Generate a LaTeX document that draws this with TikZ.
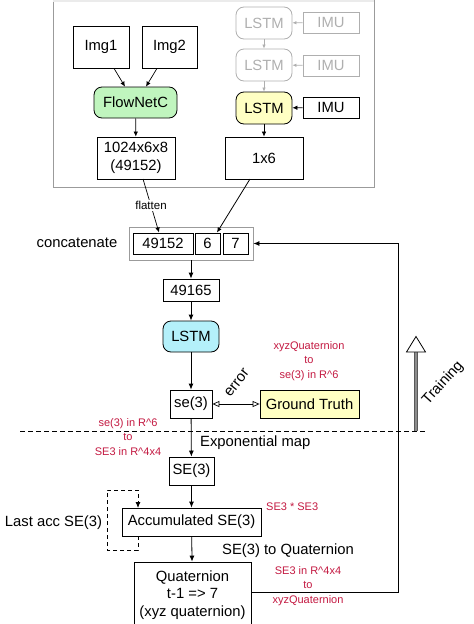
\documentclass[tikz,border=0pt]{standalone}
\usepackage{fontspec}
\setmainfont{Liberation Sans}
\usetikzlibrary{arrows.meta}
\definecolor{rtext}{RGB}{195,25,65}
\definecolor{gfill}{RGB}{192,245,190}
\definecolor{cfill}{RGB}{180,240,250}
\definecolor{yfill}{RGB}{255,255,195}
\definecolor{ghost}{RGB}{175,175,175}
\definecolor{frame}{RGB}{155,155,155}
\tikzset{
  mainf/.style={font=\fontsize{14.8}{18}\selectfont},
  redf/.style={font=\fontsize{11}{14.2}\selectfont, text=rtext, align=center},
  bx/.style={draw, line width=0.8pt, inner sep=0pt, align=center, mainf},
  rbx/.style={bx, rounded corners=8pt},
  gbx/.style={draw=ghost, line width=0.8pt, inner sep=0pt, align=center, mainf, text=ghost},
  grbx/.style={gbx, rounded corners=8pt},
  arr/.style={-{Latex[length=6pt,width=5pt]}, line width=0.8pt},
  garr/.style={-{Latex[length=4pt,width=3.5pt]}, line width=0.7pt, draw=ghost},
  tarr/.style={-{Latex[length=5pt,width=4.5pt]}, line width=0.7pt},
  oarr/.style={{Triangle[open,length=7pt,width=6pt]}-{Triangle[open,length=7pt,width=6pt]}, line width=0.7pt},
}
\begin{document}
\begin{tikzpicture}[x=1pt,y=-1pt]
\useasboundingbox (0,0) rectangle (474,624);
\clip (0,0) rectangle (474,624);

% outer frame
\draw[frame, line width=0.8pt] (53,-1) rectangle (374,187);
\fill[black!8] (53.4,-1) rectangle (373.6,1.6);

% left branch
\node[bx, minimum width=56pt, minimum height=42pt] (img1) at (101,47) {Img1};
\node[bx, minimum width=55pt, minimum height=42pt] (img2) at (169.5,47) {Img2};
\node[rbx, fill=gfill, minimum width=83pt, minimum height=31pt] (flow) at (135.5,102.5) {FlowNetC};
\node[bx, minimum width=78pt, minimum height=42pt] (feat) at (136,158) {1024x6x8\\(49152)};

% right branch
\node[grbx, minimum width=56pt, minimum height=32pt] (lstmg1) at (264,23) {LSTM};
\node[gbx, minimum width=56pt, minimum height=21pt] (imug1) at (331,22.5) {IMU};
\node[grbx, minimum width=56pt, minimum height=32pt] (lstmg2) at (264,65) {LSTM};
\node[gbx, minimum width=56pt, minimum height=21pt] (imug2) at (331,65.5) {IMU};
\node[rbx, fill=yfill, minimum width=56pt, minimum height=32pt] (lstmy) at (264,108) {LSTM};
\node[bx, minimum width=56pt, minimum height=21pt] (imu) at (331,107.5) {IMU};
\node[bx, minimum width=78pt, minimum height=42pt] (onesix) at (264,158) {1x6};

% concatenation
\node[draw=frame, line width=0.8pt, minimum width=124pt, minimum height=33pt, inner sep=0pt] (cat) at (191,243.5) {};
\node[bx, minimum width=60pt, minimum height=21pt] (c1) at (163,243.5) {49152};
\node[bx, minimum width=25pt, minimum height=21pt] (c2) at (207.5,243.5) {6};
\node[bx, minimum width=25pt, minimum height=21pt] (c3) at (235.5,243.5) {7};
\node[mainf, anchor=east, inner sep=0pt] (catlab) at (117.5,243) {concatenate};

% main chain
\node[bx, minimum width=56pt, minimum height=22pt] (n49165) at (191,290) {49165};
\node[rbx, fill=cfill, minimum width=56pt, minimum height=31pt] (lstmc) at (191,336.5) {LSTM};
\node[bx, minimum width=42pt, minimum height=28pt] (se3) at (191,404) {se(3)};
\node[bx, fill=yfill, minimum width=99pt, minimum height=28pt] (gt) at (309.5,404) {Ground Truth};
\node[bx, minimum width=45pt, minimum height=28pt] (SE3) at (191.5,471) {SE(3)};
\node[bx, minimum width=139pt, minimum height=28pt] (acc) at (191.5,522) {Accumulated SE(3)};
\node[bx, minimum width=117pt, minimum height=66pt, font=\fontsize{14.8}{17.5}\selectfont] (quat) at (192.5,595) {Quaternion\\t-1 => 7\\(xyz quaternion)};

% labels
\node[redf] (lblgt) at (309,361) {xyzQuaternion\\to\\se(3) in R\^{}6};
\node[redf] (lblexp) at (128,437) {se(3) in R\^{}6\\to\\SE3 in R\^{}4x4};
\node[redf, anchor=west, inner sep=0pt] (lblmul) at (266,507) {SE3 * SE3};
\node[redf] (lblq) at (308,586) {SE3 in R\^{}4x4\\to\\xyzQuaternion};
\node[mainf, anchor=west, inner sep=0pt] (lblexpm) at (200,443) {Exponential map};
\node[mainf, anchor=west, inner sep=0pt] (lblsq) at (222,551) {SE(3) to Quaternion};
\node[mainf] (lbllast) at (53.5,523) {Last acc SE(3)};
\node[mainf, rotate=52] (lblerr) at (237,383) {error};
\node[mainf, rotate=48] (lbltr) at (443,383) {Training};

% connectors top
\draw[tarr] (img1.south -| 114,0) -- (flow.north -| 125,0);
\draw[tarr] (img2.south -| 157,0) -- (flow.north -| 146,0);
\draw[tarr] (flow) -- (feat);
\draw[garr] (imug1) -- (lstmg1);
\draw[garr] (lstmg1) -- (lstmg2);
\draw[garr] (imug2) -- (lstmg2);
\draw[garr] (lstmg2) -- (lstmy);
\draw[tarr] (imu) -- (lstmy);
\draw[tarr] (lstmy) -- (onesix);
\coordinate (fa) at (143,179);
\coordinate (fb) at (159,232.5);
\draw[tarr] (fa) -- node[fill=white, inner sep=1.5pt, font=\fontsize{11.5}{13}\selectfont] (flat) {flatten} (fb);
\coordinate (oa) at (250,179);
\coordinate (ob) at (217,232.5);
\draw[tarr, line width=0.8pt] (oa) -- (ob);

% main chain connectors
\draw[arr] (cat) -- (n49165);
\draw[arr] (n49165) -- (lstmc);
\draw[arr] (lstmc) -- (se3);
\draw[arr] (se3) -- (SE3);
\draw[arr] (SE3) -- (acc);
\draw[arr] (acc) -- (quat);
\draw[oarr] (se3) -- (gt);

% feedback
\draw[arr] (quat.east |- 0,592) -- (398,592) |- (cat.east);

% dashed loop
\coordinate (la) at (138,536);
\coordinate (lb) at (138,508);
\draw[arr, dashed, dash pattern=on 4pt off 3pt] (la) -- (138,550) -- (107,550) -- (107,490) -- (138,490) -- (lb);

% dashed separator
\coordinate (da) at (20,431);
\coordinate (db) at (427,431);
\draw[dashed, line width=0.8pt, dash pattern=on 4.5pt off 3.5pt] (da) -- (db);

% training arrow
\coordinate (ta) at (416,431);
\coordinate (tb) at (416,336.5);
\fill[black!45] (414.6,431) rectangle (417.4,352);
\draw[white!35!black, line width=0.4pt] (414.6,431) -- (414.6,352) (417.4,431) -- (417.4,352);
\draw[line width=0.8pt, fill=white] (406.5,352) -- (tb) -- (425.5,352) -- cycle;
\end{tikzpicture}
\end{document}
